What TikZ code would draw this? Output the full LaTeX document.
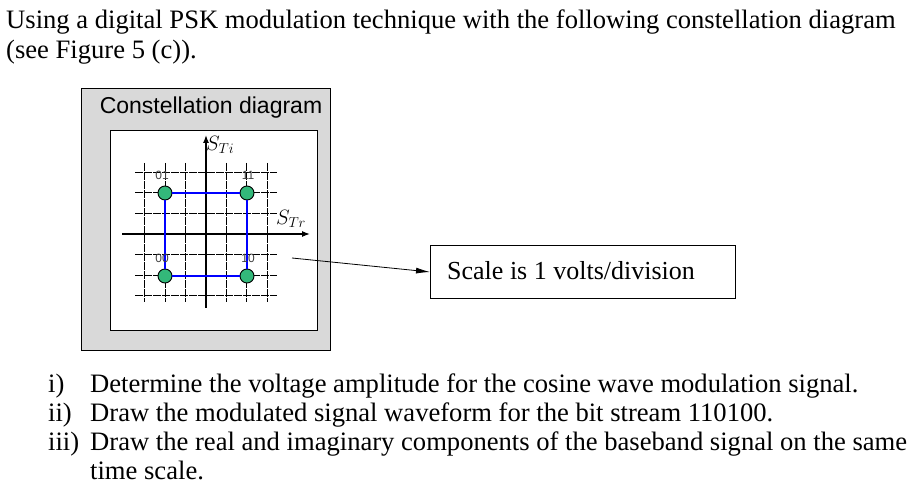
\documentclass[tikz,border=0pt]{standalone}
\usetikzlibrary{arrows.meta}
\usepackage{fontspec}
\setmainfont{Liberation Serif}
\newfontfamily\arialf{Liberation Sans}
\begin{document}
\begin{tikzpicture}[x=1pt,y=-1pt,
  txt/.style={anchor=base west,inner sep=0,font=\fontsize{26.6}{30}\selectfont},
  pt/.style={circle,draw=black,fill=teal!70!green!80,line width=0.9pt,minimum size=14pt,inner sep=0},
  lbl/.style={font=\arialf\fontsize{12}{13}\selectfont,inner sep=0,text=black!75}]
\useasboundingbox (0,0) rectangle (913,494);
\node[txt] (l1) at (6,29) {Using a digital PSK modulation technique with the following constellation diagram};
\node[txt] (l2) at (6,59) {(see Figure 5 (c)).};
\node[draw,line width=1pt,fill=black!15,minimum width=249pt,minimum height=262pt,anchor=north west] (gray) at (81,88) {};
\node[font=\arialf\fontsize{23}{26}\selectfont,inner sep=0] (title) at (211,108) {Constellation diagram};
\node[draw,line width=1.2pt,fill=white,minimum width=207pt,minimum height=200pt,anchor=north west] (white) at (110,130) {};
% grid
\foreach \i in {-3,-2,-1,1,2,3}{
  \draw[line width=0.8pt,dash pattern=on 8pt off 1pt] (206+20.4*\i,163) -- (206+20.4*\i,302);
  \draw[line width=0.8pt,dash pattern=on 8pt off 1pt] (135,234+20.6*\i) -- (277,234+20.6*\i);
}
\coordinate (xs) at (122,234); \coordinate (xe) at (310,234);
\coordinate (ys) at (206,308); \coordinate (ye) at (206,135);
\draw[line width=1.3pt,-{Latex[length=8pt]}] (xs) -- (xe);
\draw[line width=1.3pt,-{Latex[length=8pt]}] (ys) -- (ye);
\node[anchor=west,inner sep=1pt,font=\fontsize{20}{22}\selectfont] (yl) at (205,145) {$S_{Ti}$};
\node[inner sep=0,font=\fontsize{20}{22}\selectfont] (xl) at (291,219) {$S_{Tr}$};
\node[pt] (p01) at (165,193) {};
\node[pt] (p11) at (247,193) {};
\node[pt] (p00) at (165,276) {};
\node[pt] (p10) at (247,276) {};
\draw[blue,line width=1.4pt] (p01) -- (p11) -- (p10) -- (p00) -- (p01);
\node[lbl] at (162,175) {01};
\node[lbl] at (248,175) {11};
\node[lbl] at (162,258) {00};
\node[lbl] at (248,258) {10};
\node[draw,line width=1pt,minimum width=305pt,minimum height=53pt,anchor=north west] (scale) at (430,245) {};
\node[inner sep=0,anchor=west,font=\fontsize{26}{30}\selectfont] at (447,271) {Scale is 1 volts/division};
\coordinate (as) at (292,258);
\draw[line width=0.8pt,-{Latex[length=14pt,width=6pt]}] (as) -- (scale.west);
\node[txt] (n1) at (48,392) {i)};
\node[txt] (i1) at (90,392) {Determine the voltage amplitude for the cosine wave modulation signal.};
\node[txt] (n2) at (48,421) {ii)};
\node[txt] (i2) at (90,421) {Draw the modulated signal waveform for the bit stream 110100.};
\node[txt] (n3) at (48,450) {iii)};
\node[txt] (i3) at (90,450) {Draw the real and imaginary components of the baseband signal on the same};
\node[txt] (i4) at (90,479) {time scale.};
\end{tikzpicture}
\end{document}
